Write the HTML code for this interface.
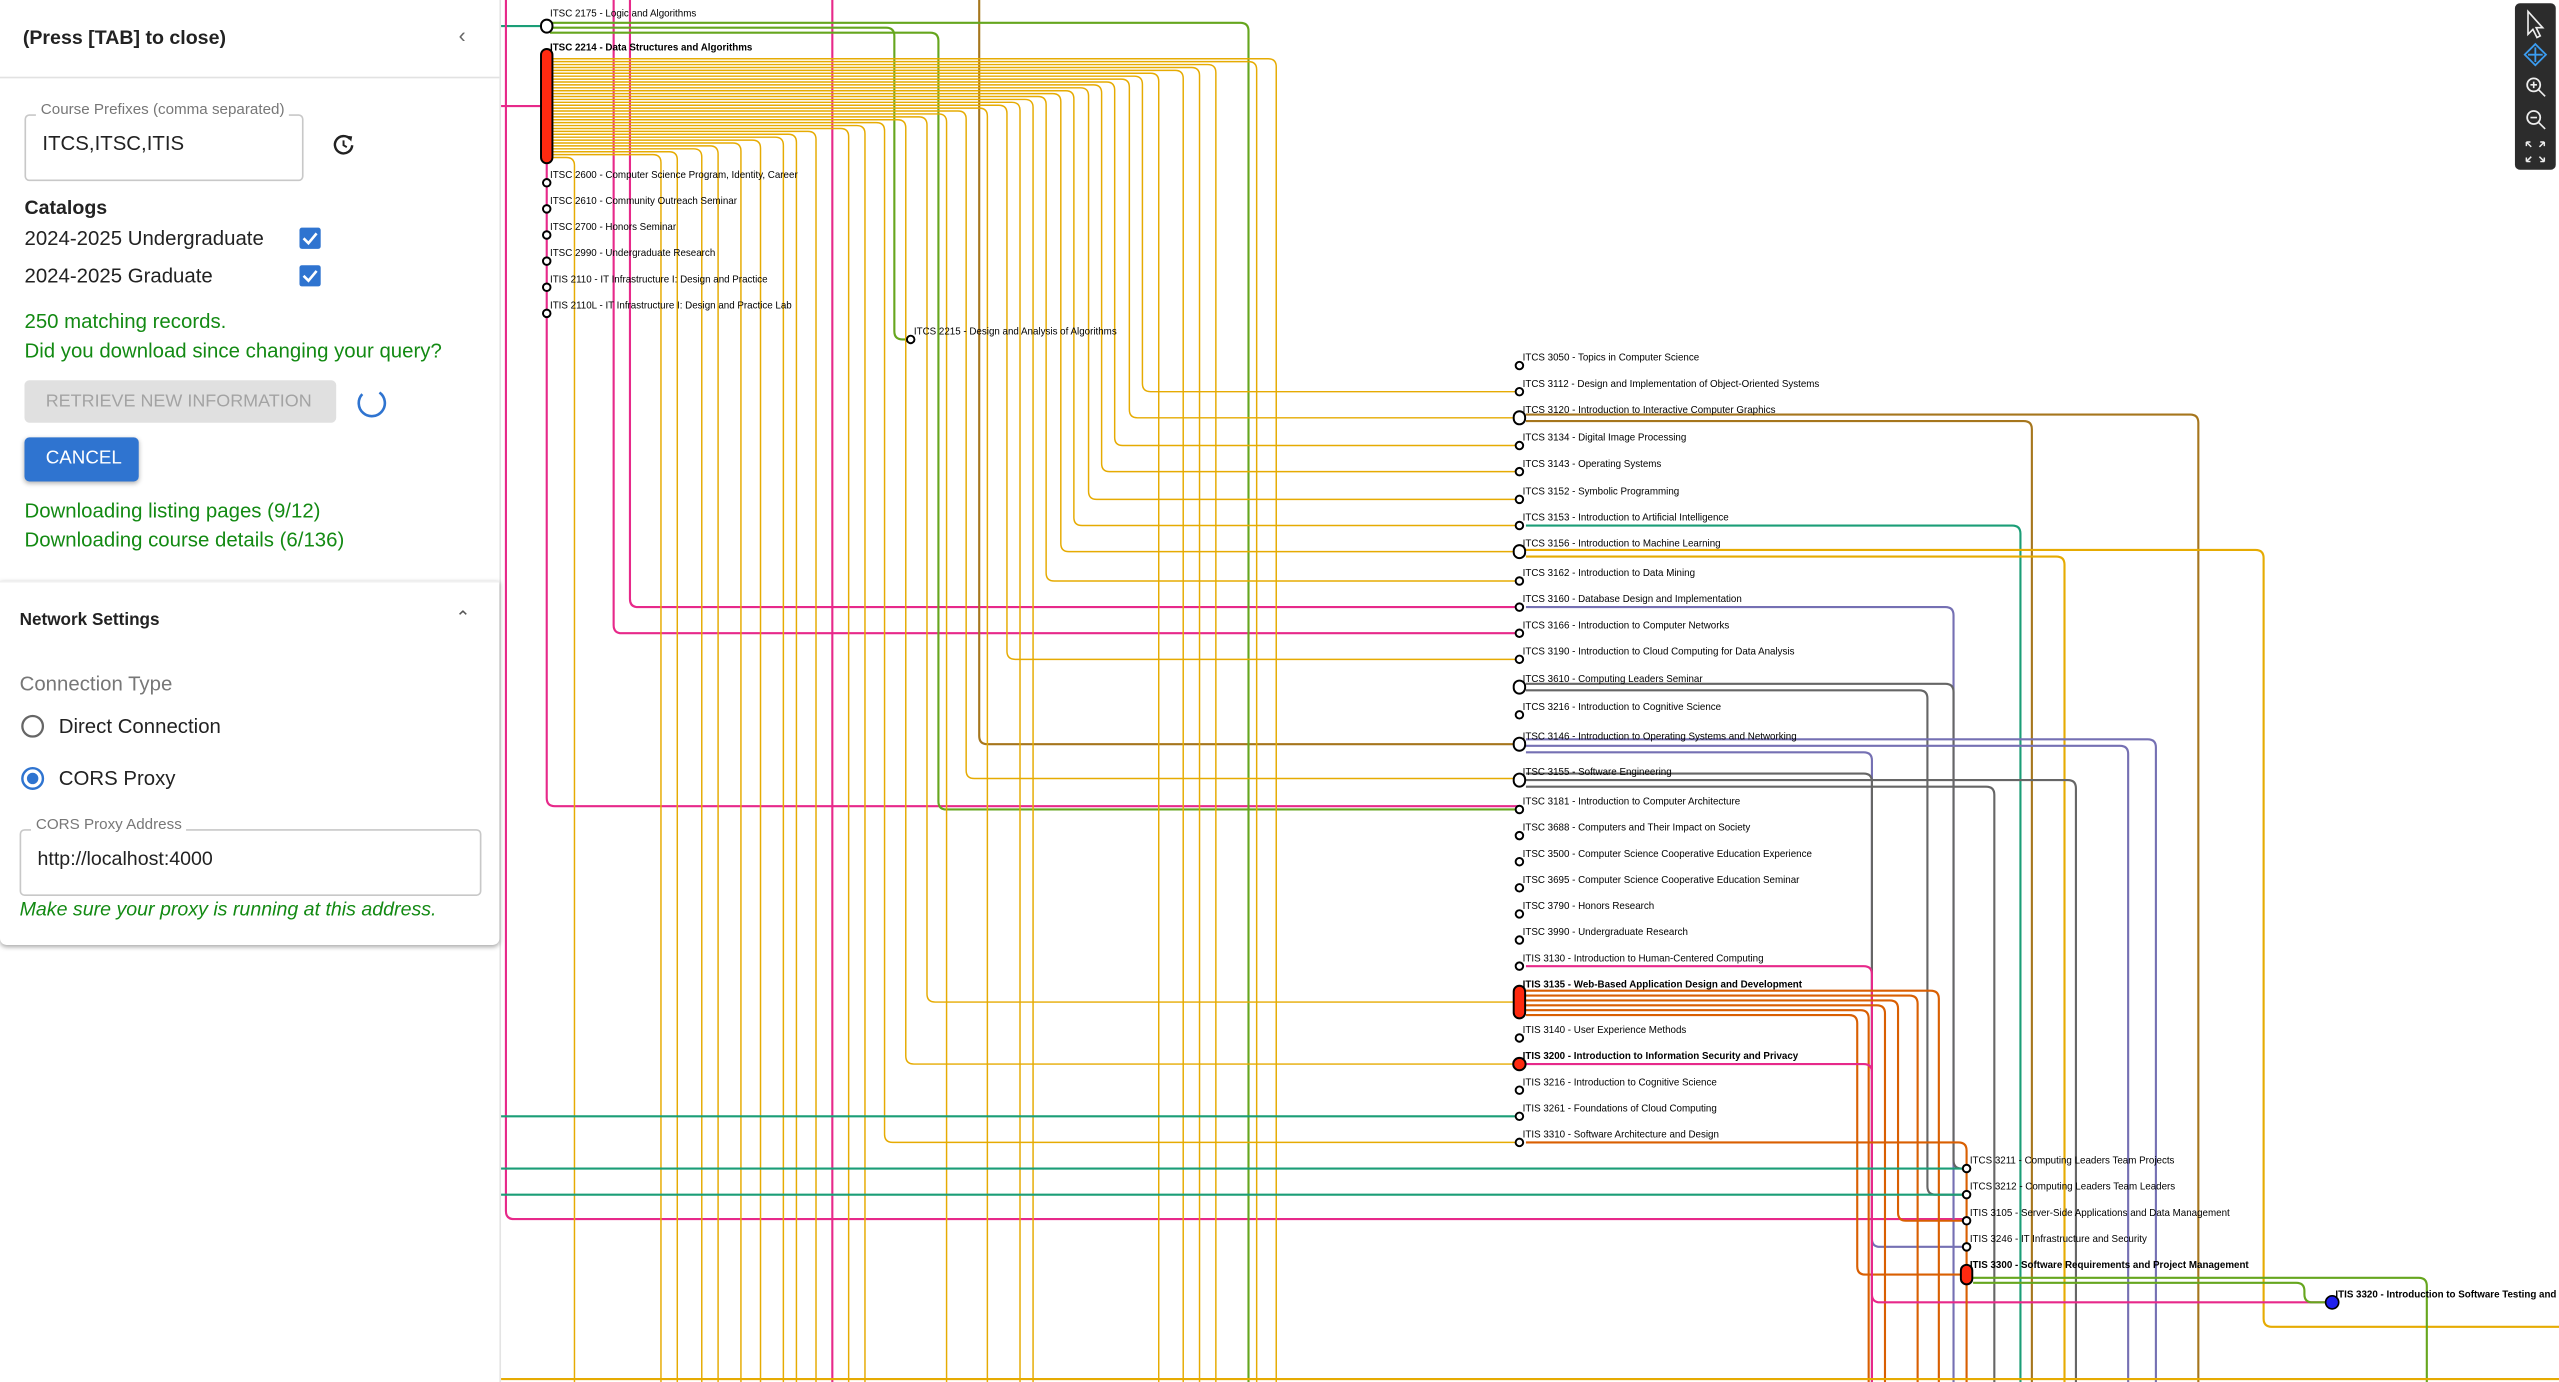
<!DOCTYPE html>
<html><head><meta charset="utf-8">
<style>
html,body{margin:0;padding:0;width:2559px;height:1382px;overflow:hidden;background:#fff;}
#root{position:absolute;left:0;top:0;width:1568px;height:847px;transform:scale(1.63202);transform-origin:0 0;font-family:"Liberation Sans",Arial,sans-serif;}
#side{position:absolute;left:0;top:0;width:306px;height:847px;border-right:1px solid #e4e4e4;background:#fff;z-index:2;}
.t{position:absolute;white-space:nowrap;}
.g{color:#138a13;font-size:12.5px;}
svg{position:absolute;left:0;top:0;}
</style></head><body><div id="root">
<svg id="gr" width="1568" height="847" viewBox="0 0 1568 847"></svg>
<div id="side">
 <div class="t" style="left:14px;top:16px;font-size:12px;font-weight:bold;color:#222">(Press [TAB] to close)</div>
 <div class="t" style="left:281px;top:14px;font-size:13px;color:#666">&#8249;</div>
 <div style="position:absolute;left:0;top:47px;width:306px;height:1px;background:#e2e2e2"></div>
 <div style="position:absolute;left:15px;top:70px;width:169px;height:39px;border:1px solid #c8c8c8;border-radius:3px"></div>
 <div class="t" style="left:22px;top:62px;font-size:9.3px;color:#777;background:#fff;padding:0 3px">Course Prefixes (comma separated)</div>
 <div class="t" style="left:26px;top:81px;font-size:12.5px;color:#222">ITCS,ITSC,ITIS</div>
 <svg style="left:203px;top:81px" width="15" height="15" viewBox="0 0 15 15"><path d="M11.5 4.2 A5.3 5.3 0 1 0 12.8 8" fill="none" stroke="#222" stroke-width="1.5"/><path d="M9.5 2.2 L12.8 2.6 L12.2 5.8Z" fill="#222"/><path d="M7.5 5v3l2 1.2" fill="none" stroke="#222" stroke-width="1.2"/></svg>
 <div class="t" style="left:15px;top:120px;font-size:12px;font-weight:bold;color:#222">Catalogs</div>
 <div class="t" style="left:15px;top:139px;font-size:12.5px;color:#222">2024-2025 Undergraduate</div>
 <div class="t" style="left:15px;top:162px;font-size:12.5px;color:#222">2024-2025 Graduate</div>
 <svg style="left:183px;top:139px" width="15" height="38"><rect x="0.5" y="0.5" width="13" height="13" rx="1.5" fill="#2f74d0"/><path d="M3 7l3 3 5-6" fill="none" stroke="#fff" stroke-width="1.6"/><rect x="0.5" y="23.5" width="13" height="13" rx="1.5" fill="#2f74d0"/><path d="M3 30l3 3 5-6" fill="none" stroke="#fff" stroke-width="1.6"/></svg>
 <div class="t g" style="left:15px;top:190px">250 matching records.</div>
 <div class="t g" style="left:15px;top:208px">Did you download since changing your query?</div>
 <div style="position:absolute;left:15px;top:233px;width:191px;height:26px;background:#e0e0e0;border-radius:3px"></div>
 <div class="t" style="left:28px;top:240px;font-size:11px;color:#a3a3a3">RETRIEVE NEW INFORMATION</div>
 <svg style="left:217px;top:236px" width="22" height="22"><path d="M15.5 4.5 A8 8 0 1 1 5 5.5" fill="none" stroke="#2f74d0" stroke-width="1.6"/></svg>
 <div style="position:absolute;left:15px;top:268px;width:70px;height:27px;background:#2f74d0;border-radius:3px;box-shadow:0 1px 3px rgba(0,0,0,.3)"></div>
 <div class="t" style="left:28px;top:275px;font-size:11.5px;color:#fff">CANCEL</div>
 <div class="t g" style="left:15px;top:306px">Downloading listing pages (9/12)</div>
 <div class="t g" style="left:15px;top:324px">Downloading course details (6/136)</div>
 <div style="position:absolute;left:0;top:356px;width:306px;height:222px;border-radius:0 0 4px 4px;box-shadow:0 1px 3px rgba(0,0,0,.35);border-top:1px solid #f0f0f0"></div>
 <div class="t" style="left:12px;top:374px;font-size:10.5px;font-weight:bold;color:#222">Network Settings</div>
 <div class="t" style="left:279px;top:372px;font-size:11px;color:#555">&#8963;</div>
 <div class="t" style="left:12px;top:412px;font-size:12.5px;color:#777">Connection Type</div>
 <svg style="left:12px;top:436px" width="18" height="50"><circle cx="8" cy="9" r="6.3" fill="none" stroke="#666" stroke-width="1.4"/><circle cx="8" cy="41" r="6.3" fill="none" stroke="#2f74d0" stroke-width="1.5"/><circle cx="8" cy="41" r="3.5" fill="#2f74d0"/></svg>
 <div class="t" style="left:36px;top:438px;font-size:12.5px;color:#222">Direct Connection</div>
 <div class="t" style="left:36px;top:470px;font-size:12.5px;color:#222">CORS Proxy</div>
 <div style="position:absolute;left:12px;top:508px;width:281px;height:39px;border:1px solid #c8c8c8;border-radius:3px"></div>
 <div class="t" style="left:19px;top:500px;font-size:9.3px;color:#777;background:#fff;padding:0 3px">CORS Proxy Address</div>
 <div class="t" style="left:23px;top:519px;font-size:12px;color:#222">http://localhost:4000</div>
 <div class="t" style="left:12px;top:550px;font-size:12px;font-style:italic;color:#138a13">Make sure your proxy is running at this address.</div>
</div>
<div style="position:absolute;left:1541px;top:2px;width:25px;height:102px;background:#2c2c2c;border-radius:3px;z-index:3">
 <svg width="25" height="102"><path d="M8 5 L8 19 L11 16 L13.5 21 L15.5 20 L13 15 L17 15Z" fill="none" stroke="#eee" stroke-width="1"/>
 <g stroke="#3b9cf0" fill="none" stroke-width="1.1"><path d="M12.5 25 L19 31.5 L12.5 38 L6 31.5Z"/><path d="M12.5 27v9M8 31.5h9"/></g>
 <circle cx="11.5" cy="50" r="4" fill="none" stroke="#eee" stroke-width="1.1"/><path d="M14.5 53l4 4M9.5 50h4M11.5 48v4" stroke="#eee" stroke-width="1"/>
 <circle cx="11.5" cy="70" r="4" fill="none" stroke="#eee" stroke-width="1.1"/><path d="M14.5 73l4 4M9.5 70h4" stroke="#eee" stroke-width="1"/>
 <path d="M7 85l3 3M7 85h2.5M7 85v2.5M18 85l-3 3M18 85h-2.5M18 85v2.5M7 97l3-3M7 97h2.5M7 97v-2.5M18 97l-3-3M18 97h-2.5M18 97v-2.5" stroke="#eee" stroke-width="0.9"/></svg>
</div>
</div>
<script>
var NS="http://www.w3.org/2000/svg",G=document.getElementById('gr');
var Y='#e6ab02',P='#e7298a',T='#1b9e77',O='#d95f02',U='#7570b3',GR='#66a61e',B='#a6761d',K='#666666';
function el(n,a){var e=document.createElementNS(NS,n);for(var k in a)e.setAttribute(k,a[k]);G.appendChild(e);return e;}
function rp(p){var r=5,d='M'+p[0][0]+' '+p[0][1];
 for(var i=1;i<p.length-1;i++){var a=p[i-1],b=p[i],c=p[i+1];
  var d1=[Math.sign(b[0]-a[0]),Math.sign(b[1]-a[1])],d2=[Math.sign(c[0]-b[0]),Math.sign(c[1]-b[1])];
  var rr=Math.min(r,Math.abs(b[0]-a[0])+Math.abs(b[1]-a[1]),Math.abs(c[0]-b[0])+Math.abs(c[1]-b[1]));
  d+=' L'+(b[0]-d1[0]*rr)+' '+(b[1]-d1[1]*rr)+' Q'+b[0]+' '+b[1]+' '+(b[0]+d2[0]*rr)+' '+(b[1]+d2[1]*rr);}
 var l=p[p.length-1];d+=' L'+l[0]+' '+l[1];return d;}
function L(c,p,w){el('path',{d:rp(p),fill:'none',stroke:c,'stroke-width':w||1.3});}
function hv(c,x1,y1,xv,y2,x2,w){L(c,[[x1,y1],[xv,y1],[xv,y2],[x2,y2]],w);}
function hd(c,x1,y1,xv,w){L(c,[[x1,y1],[xv,y1],[xv,850]],w);}
L(T,[[307,16],[333,16]]);L(P,[[307,65],[333,65]]);
L(P,[[310,0],[310,747],[1205,747]]);
L(P,[[335,98],[335,494],[931,494]]);
L(P,[[376,0],[376,388],[931,388]]);L(P,[[386,0],[386,372],[931,372]]);
L(P,[[510,0],[510,850]]);
L(B,[[600,0],[600,456],[931,456]]);
hd(GR,337,14,765);hv(GR,337,17,548,208,558);hv(GR,337,20,575,496,931);
var ys=[[782],[770],[745],[735],[725],[710],[700,240],[692,256],[683,273],[675,289],[667,306],[658,322],[650,338],[641,356],[633],[625],[617,404],[605],[592,477],[580],[568,614],[555,652],[542,700],[530],[520],[500],[488],[480],[466],[454],[440],[430],[415],[405],[352]];
ys.forEach(function(v,i){var y=36+i*1.78;if(v.length>1)hv(Y,339,y,v[0],v[1],931,0.9);else hd(Y,339,y,v[0],0.9);});
hd(B,935,254,1347);hd(B,935,258,1245);
hd(T,935,322,1238);
L(Y,[[935,337],[1387,337],[1387,813],[1570,813]]);hd(Y,935,341,1265);
hd(U,935,372,1197);
hv(K,935,419,1197,716,1205);hv(K,935,423,1181,732,1205);
hd(U,935,453,1321);hd(U,935,457,1304);hv(U,935,461,1147,764,1205);
hd(K,935,474,1147);hd(K,935,478,1272);hd(K,935,482,1222);
hd(P,935,592,1147);
hd(O,935,607,1188);hd(O,935,610,1175);hv(O,935,613,1163,748,1205);hd(O,935,616,1155);hd(O,935,619,1145);hv(O,935,622,1138,781,1205);
L(P,[[935,652],[1147,652],[1147,798],[1429,798]]);
L(O,[[935,700],[1205,700],[1205,850]]);
L(T,[[307,684],[931,684]]);L(T,[[307,716],[1205,716]]);L(T,[[307,732],[1205,732]]);
hd(GR,1209,783,1487);hv(GR,1209,786,1412,798,1429);
L(Y,[[307,845],[1570,845]]);
function nd(x,y,l,b){el('circle',{cx:x,cy:y,r:2.3,fill:'#fff',stroke:'#000','stroke-width':1.2});tx(x,y,l,b);}
function cap(x,y1,y2,f,l,b,ly){el('rect',{x:x-3.5,y:y1,width:7,height:y2-y1,rx:3.5,fill:f,stroke:'#000','stroke-width':1.2});tx(x,ly||y1+1,l,b);}
function tx(x,y,l,b){var t=el('text',{x:x+2,y:y-3,'font-size':6,'font-family':'Liberation Sans, Arial, sans-serif','font-weight':b?'bold':'normal',fill:'#000'});t.textContent=l;}
cap(335,12,20,'#fff','ITSC 2175 - Logic and Algorithms',0,13);
cap(335,30,100,'#ff2a10','ITSC 2214 - Data Structures and Algorithms',1,34);
[[112,'ITSC 2600 - Computer Science Program, Identity, Career'],[128,'ITSC 2610 - Community Outreach Seminar'],[144,'ITSC 2700 - Honors Seminar'],[160,'ITSC 2990 - Undergraduate Research'],[176,'ITIS 2110 - IT Infrastructure I: Design and Practice'],[192,'ITIS 2110L - IT Infrastructure I: Design and Practice Lab']].forEach(function(a){nd(335,a[0],a[1]);});
nd(558,208,'ITCS 2215 - Design and Analysis of Algorithms');
var C=[[224,'ITCS 3050 - Topics in Computer Science'],[240,'ITCS 3112 - Design and Implementation of Object-Oriented Systems'],[256,'ITCS 3120 - Introduction to Interactive Computer Graphics','c'],[273,'ITCS 3134 - Digital Image Processing'],[289,'ITCS 3143 - Operating Systems'],[306,'ITCS 3152 - Symbolic Programming'],[322,'ITCS 3153 - Introduction to Artificial Intelligence'],[338,'ITCS 3156 - Introduction to Machine Learning','c'],[356,'ITCS 3162 - Introduction to Data Mining'],[372,'ITCS 3160 - Database Design and Implementation'],[388,'ITCS 3166 - Introduction to Computer Networks'],[404,'ITCS 3190 - Introduction to Cloud Computing for Data Analysis'],[421,'ITCS 3610 - Computing Leaders Seminar','c'],[438,'ITCS 3216 - Introduction to Cognitive Science'],[456,'ITSC 3146 - Introduction to Operating Systems and Networking','c'],[478,'ITSC 3155 - Software Engineering','c'],[496,'ITSC 3181 - Introduction to Computer Architecture'],[512,'ITSC 3688 - Computers and Their Impact on Society'],[528,'ITSC 3500 - Computer Science Cooperative Education Experience'],[544,'ITSC 3695 - Computer Science Cooperative Education Seminar'],[560,'ITSC 3790 - Honors Research'],[576,'ITSC 3990 - Undergraduate Research'],[592,'ITIS 3130 - Introduction to Human-Centered Computing'],[636,'ITIS 3140 - User Experience Methods'],[668,'ITIS 3216 - Introduction to Cognitive Science'],[684,'ITIS 3261 - Foundations of Cloud Computing'],[700,'ITIS 3310 - Software Architecture and Design']];
C.forEach(function(a){if(a[2])cap(931,a[0]-4,a[0]+4,'#fff',a[1],0,a[0]);else nd(931,a[0],a[1]);});
cap(931,604,624,'#ff2a10','ITIS 3135 - Web-Based Application Design and Development',1,608);
el('circle',{cx:931,cy:652,r:3.8,fill:'#ff2a10',stroke:'#000','stroke-width':1.2});tx(931,652,'ITIS 3200 - Introduction to Information Security and Privacy',1);
[[716,'ITCS 3211 - Computing Leaders Team Projects'],[732,'ITCS 3212 - Computing Leaders Team Leaders'],[748,'ITIS 3105 - Server-Side Applications and Data Management'],[764,'ITIS 3246 - IT Infrastructure and Security']].forEach(function(a){nd(1205,a[0],a[1]);});
cap(1205,775,787,'#ff2a10','ITIS 3300 - Software Requirements and Project Management',1,780);
el('circle',{cx:1429,cy:798,r:4,fill:'#2020ee',stroke:'#000','stroke-width':1});tx(1429,798,'ITIS 3320 - Introduction to Software Testing and Assurance',1);
</script>
</body></html>
